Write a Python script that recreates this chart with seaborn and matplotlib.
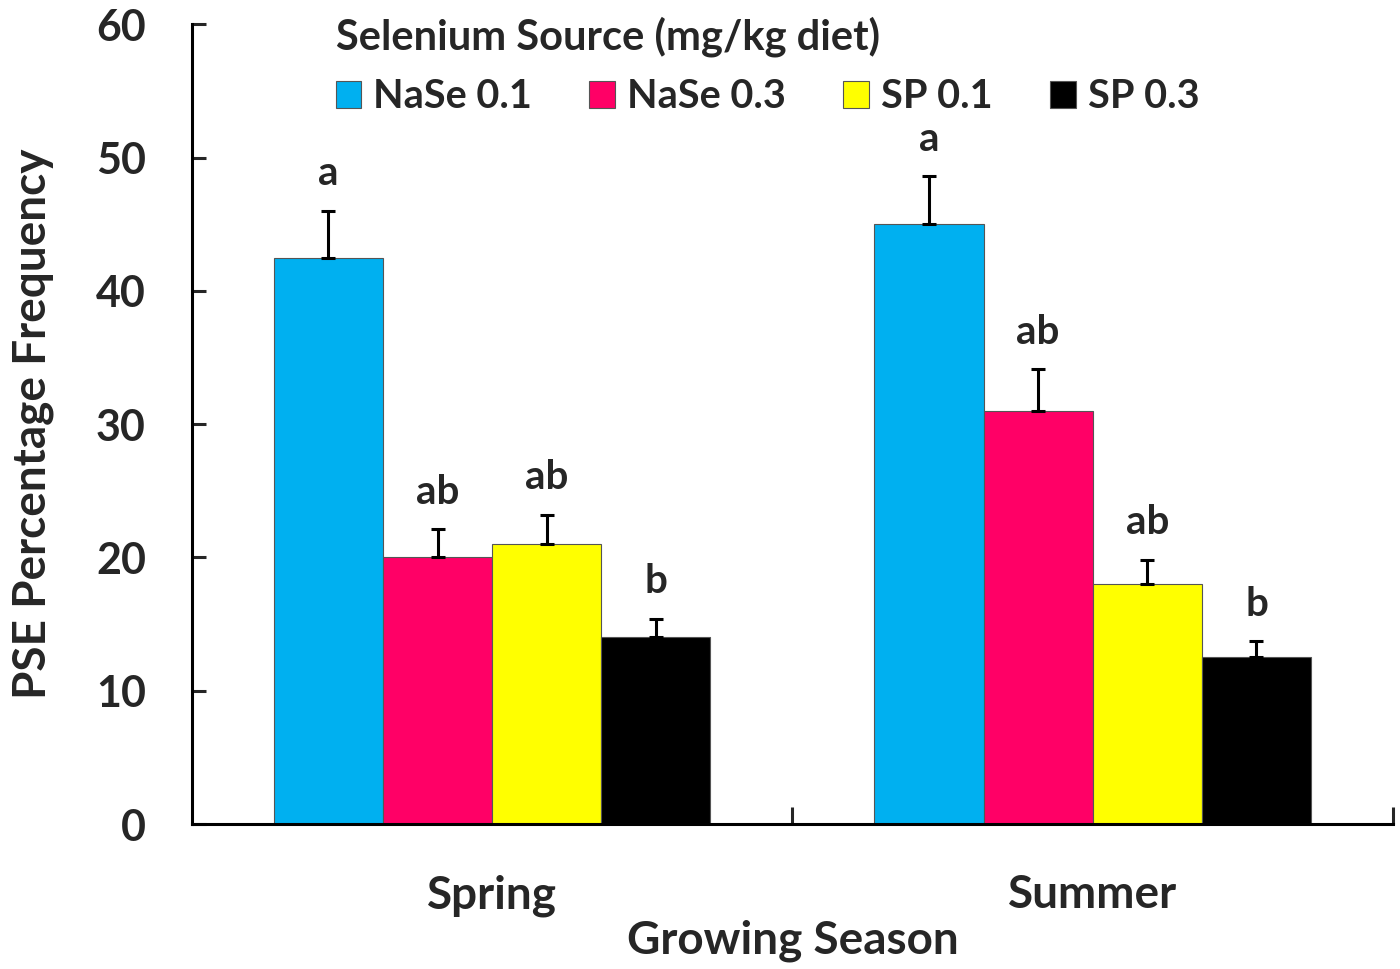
import pandas as pd
import numpy as np
import matplotlib
matplotlib.use('Agg')
import matplotlib.pyplot as plt
import seaborn as sns

# -----------------------------
# Data
# -----------------------------
seasons = ['Spring', 'Summer']
sources = ['NaSe 0.1', 'NaSe 0.3', 'SP 0.1', 'SP 0.3']
spring_vals = [42.5, 20.0, 21.0, 14.0]
summer_vals = [45.0, 31.0, 18.0, 12.5]
spring_err = [3.5, 2.1, 2.2, 1.4]
summer_err = [3.6, 3.1, 1.8, 1.2]
spring_letters = ['a', 'ab', 'ab', 'b']
summer_letters = ['a', 'ab', 'ab', 'b']
colors = ['#00B0F0', '#FF0066', '#FFFF00', '#000000']

df = pd.DataFrame({
    'season': [s for s in seasons for _ in sources],
    'source': sources * 2,
    'pse': spring_vals + summer_vals,
    'err': spring_err + summer_err,
    'letter': spring_letters + summer_letters,
})

# -----------------------------
# Style
# -----------------------------
sns.set_style('white')
plt.rcParams['font.family'] = ['Lato', 'DejaVu Sans']
plt.rcParams['font.weight'] = 'bold'

fig = plt.figure(figsize=(14, 9.69), dpi=100)
ax = fig.add_axes([0.137, 0.1496, 0.858, 0.8254])

sns.barplot(data=df, x='season', y='pse', hue='source', order=seasons,
            hue_order=sources, palette=colors, width=0.727, errorbar=None,
            edgecolor='#555555', linewidth=0.8, saturation=1, ax=ax)

# upper-only error bars and letters
for cont, src in zip(ax.containers, sources):
    sub = df[df['source'] == src].set_index('season').loc[seasons]
    for bar, v, e, lab in zip(cont, sub['pse'], sub['err'], sub['letter']):
        xc = bar.get_x() + bar.get_width() / 2
        ax.errorbar(xc, v, yerr=[[0], [e]], fmt='none', ecolor='black',
                    elinewidth=2.2, capsize=5, capthick=2.2)
        ax.text(xc, v + e + 1.4, lab, ha='center', va='bottom',
                fontsize=29, fontweight='bold')

ax.set_xlim(-0.5, 1.5)
ax.set_ylim(0, 60)
ax.set_yticks(np.arange(0, 61, 10))
ax.tick_params(axis='y', direction='in', length=10, width=2.2, left=True,
               labelsize=31, pad=33)
ax.set_xticks([0, 1])
ax.set_xticks([0.5, 1.5], minor=True)
ax.tick_params(axis='x', which='major', length=0, labelsize=33, pad=36)
ax.tick_params(axis='x', which='minor', direction='in', length=12, width=2.2,
               bottom=True)
for lab in ax.get_xticklabels() + ax.get_yticklabels():
    lab.set_fontweight('bold')

for side in ['top', 'right']:
    ax.spines[side].set_visible(False)
for side in ['left', 'bottom']:
    ax.spines[side].set_linewidth(2.2)
    ax.spines[side].set_color('black')

ax.set_xlabel('Growing Season', fontsize=33, fontweight='bold', labelpad=2)
ax.set_ylabel('PSE Percentage Frequency', fontsize=33, fontweight='bold',
              labelpad=30)

leg = ax.legend(title='Selenium Source (mg/kg diet)', ncol=4, frameon=False,
                loc='upper left', bbox_to_anchor=(0.09, 1.055),
                fontsize=28.5, title_fontsize=30, alignment='left',
                handlelength=0.65, handleheight=0.65, handletextpad=0.3,
                columnspacing=1.45, labelspacing=0.55)
leg.get_title().set_fontweight('bold')
for t in leg.get_texts():
    t.set_fontweight('bold')

plt.savefig('out.png', dpi=100)
